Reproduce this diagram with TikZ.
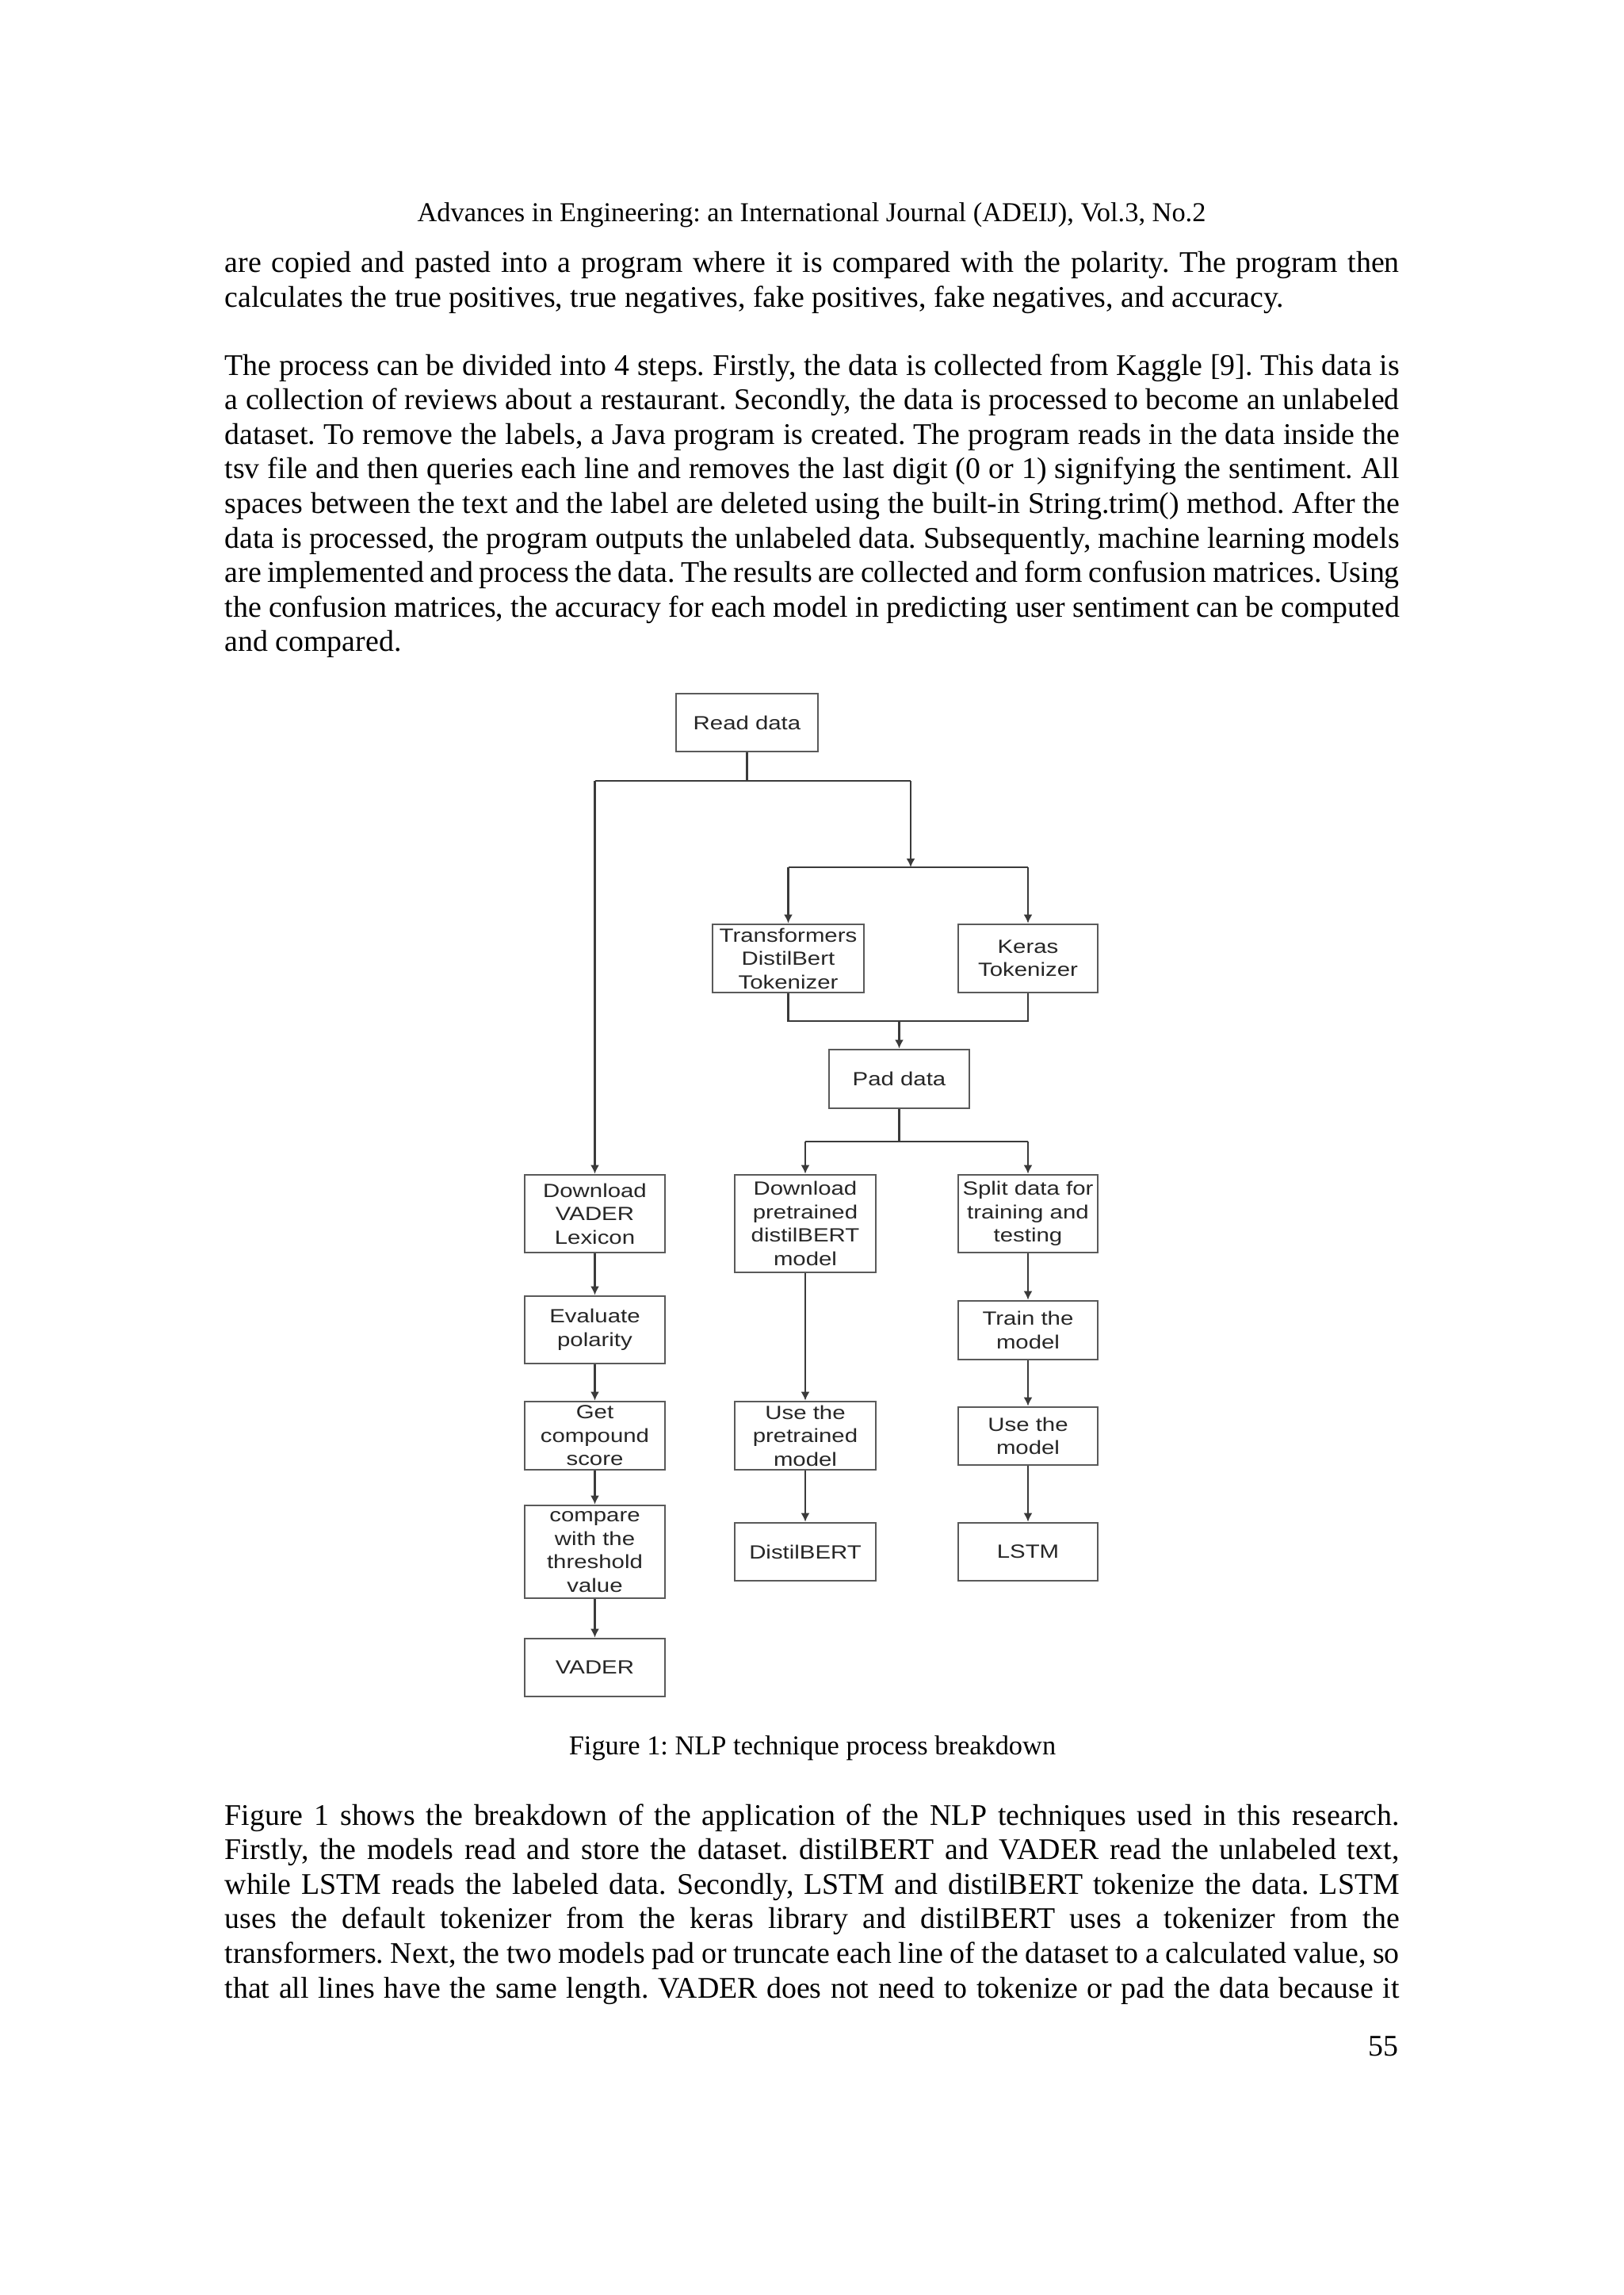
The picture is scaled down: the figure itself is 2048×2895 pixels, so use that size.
\documentclass[tikz,border=0pt]{standalone}
\usepackage{fontspec}
\setmainfont{Liberation Serif}
\setsansfont{Liberation Sans}
\newfontfamily\boxfont[FakeStretch=1.22]{Liberation Sans}
\usetikzlibrary{arrows.meta}
\definecolor{linegray}{HTML}{3A3A3A}
\definecolor{boxgray}{HTML}{5A5A5A}
\definecolor{txtgray}{HTML}{262626}
\def\PX{0.29066pt}
\newcommand\jline[1]{\hbox to 430.77pt{#1}}
\frenchspacing
\begin{document}
\begin{tikzpicture}[x=0.29066pt,y=-0.29066pt,
  flowbox/.style={draw=boxgray, line width=0.8pt, align=center, inner sep=0pt,
    font=\boxfont\fontsize{7}{8.6}\selectfont, text=txtgray},
  bx/.style 2 args={minimum width=#1*\PX, minimum height=#2*\PX},
  conn/.style={draw=linegray, line width=0.6pt},
  arr/.style={conn, -{Latex[length=3.2pt,width=3.2pt]}},
  body/.style={inner sep=0pt, anchor=base west, font=\fontsize{11}{12.65}\selectfont},
  small/.style={inner sep=0pt, anchor=base, font=\fontsize{10}{12}\selectfont}]
\useasboundingbox[fill=white] (0,0) rectangle (2048,2895);

% header
\node[small] (hdr) at (1024,279) {Advances in Engineering: an International Journal (ADEIJ), Vol.3, No.2};

% paragraph 1
\node[body] (a1) at (283,343) {\jline{are copied and pasted into a program where it is compared with the polarity. The program then}};
\node[body] (a2) at (283,387) {calculates the true positives, true negatives, fake positives, fake negatives, and accuracy.};

% paragraph 2
\node[body] (b1) at (283,473.0) {\jline{The process can be divided into 4 steps. Firstly, the data is collected from Kaggle [9]. This data is}};
\node[body] (b2) at (283,516.6) {\jline{a collection of reviews about a restaurant. Secondly, the data is processed to become an unlabeled}};
\node[body] (b3) at (283,560.2) {\jline{dataset. To remove the labels, a Java program is created. The program reads in the data inside the}};
\node[body] (b4) at (283,603.8) {\jline{tsv file and then queries each line and removes the last digit (0 or 1) signifying the sentiment. All}};
\node[body] (b5) at (283,647.4) {\jline{spaces between the text and the label are deleted using the built-in String.trim() method. After the}};
\node[body] (b6) at (283,691.0) {\jline{data is processed, the program outputs the unlabeled data. Subsequently, machine learning models}};
\node[body] (b7) at (283,734.6) {\jline{are implemented and process the data. The results are collected and form confusion matrices. Using}};
\node[body] (b8) at (283,778.2) {\jline{the confusion matrices, the accuracy for each model in predicting user sentiment can be computed}};
\node[body] (b9) at (283,821.8) {and compared.};

% flowchart boxes
\node[flowbox, bx={179}{73}]  (read)   at (942.5,911.5) {Read data};
\node[flowbox, bx={191}{86}]  (trans)  at (994.5,1209)  {Transformers\\DistilBert\\Tokenizer};
\node[flowbox, bx={176}{86}]  (keras)  at (1297,1209)   {Keras\\Tokenizer};
\node[flowbox, bx={177}{74}]  (pad)    at (1134.5,1361) {Pad data};
\node[flowbox, bx={177}{98}]  (dlv)    at (750.5,1531)  {Download\\VADER\\Lexicon};
\node[flowbox, bx={178}{123}] (dlp)    at (1016,1543.5) {Download\\pretrained\\distilBERT\\model};
\node[flowbox, bx={176}{98}]  (split)  at (1297,1531)   {Split data for\\training and\\testing};
\node[flowbox, bx={177}{85}]  (eval)   at (750.5,1677.5) {Evaluate\\polarity};
\node[flowbox, bx={176}{74}]  (train)  at (1297,1678)   {Train the\\model};
\node[flowbox, bx={177}{86}]  (get)    at (750.5,1811)  {Get\\compound\\score};
\node[flowbox, bx={178}{86}]  (usep)   at (1016,1811)   {Use the\\pretrained\\model};
\node[flowbox, bx={176}{73}]  (use)    at (1297,1811.5) {Use the\\model};
\node[flowbox, bx={177}{117}] (cmp)    at (750.5,1957.5) {compare\\with the\\threshold\\value};
\node[flowbox, bx={178}{73}]  (distil) at (1016,1957.5) {DistilBERT};
\node[flowbox, bx={176}{73}]  (lstm)   at (1297,1957.5) {LSTM};
\node[flowbox, bx={177}{73}]  (vader)  at (750.5,2103.5) {VADER};

% junctions
\coordinate (rj) at (942.5,985);
\coordinate (rl) at (750.5,985);
\coordinate (rr) at (1149,985);
\coordinate (tj) at (1149,1094);
\coordinate (tl) at (994.5,1094);
\coordinate (tr) at (1297,1094);
\coordinate (bj) at (1134.5,1288);
\coordinate (bl) at (994.5,1288);
\coordinate (br) at (1297,1288);
\coordinate (pj) at (1134.5,1440);
\coordinate (pl) at (1016,1440);
\coordinate (pr) at (1297,1440);

% connectors
\draw[conn] (read.south) -- (rj);
\draw[conn] (rl) -- (rr);
\draw[arr] (rl) -- (dlv.north);
\draw[arr] (rr) -- (tj);
\draw[conn] (tl) -- (tr);
\draw[arr] (tl) -- (trans.north);
\draw[arr] (tr) -- (keras.north);
\draw[conn] (trans.south) -- (bl) -- (br) -- (keras.south);
\draw[arr] (bj) -- (pad.north);
\draw[conn] (pad.south) -- (pj);
\draw[conn] (pl) -- (pr);
\draw[arr] (pl) -- (dlp.north);
\draw[arr] (pr) -- (split.north);
\draw[arr] (dlv) -- (eval);
\draw[arr] (eval) -- (get);
\draw[arr] (get) -- (cmp);
\draw[arr] (cmp) -- (vader);
\draw[arr] (dlp) -- (usep);
\draw[arr] (usep) -- (distil);
\draw[arr] (split) -- (train);
\draw[arr] (train) -- (use);
\draw[arr] (use) -- (lstm);

% caption
\node[small] (cap) at (1025,2213) {Figure 1: NLP technique process breakdown};

% paragraph 3
\node[body] (c1) at (283,2302.0) {\jline{Figure 1 shows the breakdown of the application of the NLP techniques used in this research.}};
\node[body] (c2) at (283,2345.6) {\jline{Firstly, the models read and store the dataset. distilBERT and VADER read the unlabeled text,}};
\node[body] (c3) at (283,2389.2) {\jline{while LSTM reads the labeled data. Secondly, LSTM and distilBERT tokenize the data. LSTM}};
\node[body] (c4) at (283,2432.8) {\jline{uses the default tokenizer from the keras library and distilBERT uses a tokenizer from the}};
\node[body] (c5) at (283,2476.4) {\jline{transformers. Next, the two models pad or truncate each line of the dataset to a calculated value, so}};
\node[body] (c6) at (283,2520.0) {\jline{that all lines have the same length. VADER does not need to tokenize or pad the data because it}};

% page number
\node[body, anchor=base east] (pg) at (1765,2593) {55};
\end{tikzpicture}
\end{document}
